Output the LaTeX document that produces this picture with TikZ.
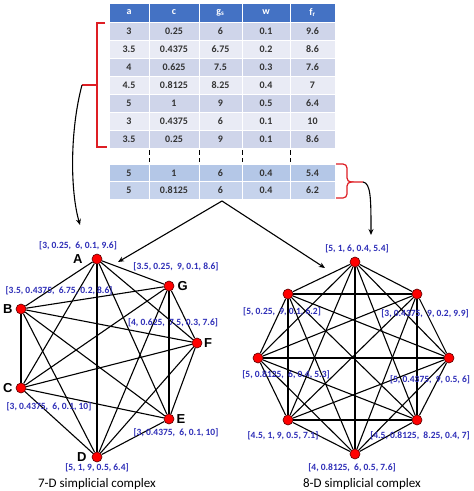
\documentclass[tikz,border=0pt]{standalone}
\usepackage{fontspec}
\setmainfont{Carlito}
\newfontfamily\lettfont{Liberation Sans}
\usetikzlibrary{positioning,arrows.meta,backgrounds}
\definecolor{tabhead}{RGB}{68,114,196}
\definecolor{rowA}{RGB}{207,213,234}
\definecolor{rowB}{RGB}{233,235,245}
\definecolor{newA}{RGB}{180,199,231}
\definecolor{newB}{RGB}{198,211,236}
\definecolor{vecblue}{RGB}{46,46,184}
\definecolor{brkred}{RGB}{222,30,36}
\tikzset{
  % --- table ------------------------------------------------------------------
  cell/.style={rectangle,draw=white,line width=0.8pt,inner sep=0pt,
               minimum height=18,text=black!80,
               font=\fontsize{10}{10}\selectfont\bfseries},
  hcell/.style={cell,fill=tabhead,text=white,minimum height=19},
  gap/.style={black,line width=1.6pt,dash pattern=on 5pt off 3pt},
  brk/.style={brkred,line width=1.2pt},
  flow/.style={-{Stealth[length=6pt,width=5pt]},black,line width=1.1pt},
  both/.style={{Stealth[length=6pt,width=5pt]}-{Stealth[length=6pt,width=5pt]},
               black,line width=1.1pt},
  % --- complexes --------------------------------------------------------------
  vtx/.style={circle,fill=red,draw=red!35!black,line width=0.6pt,
              minimum size=10,inner sep=0pt},
  vname/.style={font=\lettfont\fontsize{13}{13}\selectfont\bfseries,inner sep=0pt},
  vlab/.style={font=\fontsize{9.5}{10}\selectfont\bfseries,text=vecblue,inner sep=1pt},
  edge/.style={black,line width=1.1pt},
  captxt/.style={font=\fontsize{13}{14}\selectfont,inner sep=1pt},
}

\begin{document}
\begin{tikzpicture}[x=1pt, y=-1pt]
  \useasboundingbox (0,0) rectangle (474,491);

  % table
  \foreach \x/\w/\k/\t in {129/40/a/a, 174/50/c/c, 220.5/43/g/g\textsubscript{s},
                           266/48/w/w, 312.5/45/f/f\textsubscript{r}}
    \node[hcell,minimum width=\w] (h-\k) at (\x,12.5) {\t};
  \foreach \y/\fl/\nm/\va/\vc/\vg/\vw/\vf in {
      31/rowA/o1/3/0.25/6/0.1/9.6,       49/rowB/o2/3.5/0.4375/6.75/0.2/8.6,
      67/rowA/o3/4/0.625/7.5/0.3/7.6,    85/rowB/o4/4.5/0.8125/8.25/0.4/7,
      103/rowA/o5/5/1/9/0.5/6.4,         121/rowB/o6/3/0.4375/6/0.1/10,
      139/rowA/o7/3.5/0.25/9/0.1/8.6,
      173/newA/n1/5/1/6/0.4/5.4,         190/newB/n2/5/0.8125/6/0.4/6.2} {
    \node[cell,fill=\fl,minimum width=40] (\nm-a) at (129,\y)   {\va};
    \node[cell,fill=\fl,minimum width=50] (\nm-c) at (174,\y)   {\vc};
    \node[cell,fill=\fl,minimum width=43] (\nm-g) at (220.5,\y) {\vg};
    \node[cell,fill=\fl,minimum width=48] (\nm-w) at (266,\y)   {\vw};
    \node[cell,fill=\fl,minimum width=45] (\nm-f) at (312.5,\y) {\vf};
  }
  \foreach \k in {a,c,g,w}
    \draw[gap] ([yshift=-2pt]o7-\k.south east) -- ([yshift=2pt]n1-\k.north east);

  % brackets and arrows
  \coordinate (lbtick) at (82,85);
  \coordinate (lend)   at (80,225);
  \coordinate (rbtick) at (363,182);
  \coordinate (rend)   at (371,235);
  \coordinate (fork)   at (222,201);
  \coordinate (fend1)  at (118,262);
  \coordinate (fend2)  at (325,268);
  \draw[brk] (105,23) -- (97,23) -- (97,147) -- (107,147);
  \draw[brk] (97,85) -- (lbtick);
  \draw[brk,rounded corners=4pt] (336,164) -- (347,164) -- (347,182) -- (rbtick);
  \draw[brk,rounded corners=4pt] (349,182) -- (347,182) -- (347,198) -- (336,198);
  \draw[flow] (lbtick) .. controls (70,130) and (70,190) .. (lend);
  \draw[flow] (rbtick) .. controls (371,183) and (371,200) .. (rend);
  \draw[both] (fend1) -- (fork) -- (fend2);

  % 7-D complex
  \node[vtx] (sA) at (97,259)  {};
  \node[vtx] (sB) at (21,309)  {};
  \node[vtx] (sC) at (21,388)  {};
  \node[vtx] (sD) at (97,457)  {};
  \node[vtx] (sE) at (169,419) {};
  \node[vtx] (sF) at (197,343) {};
  \node[vtx] (sG) at (169,286) {};
  \node[vname,left=9pt of sA]   (nA) {A};
  \node[vname,left=3pt of sB]   (nB) {B};
  \node[vname,left=3pt of sC]   (nC) {C};
  \node[vname,left=5pt of sD]   (nD) {D};
  \node[vname,right=2pt of sE]  (nE) {E};
  \node[vname,right=1.5pt of sF] (nF) {F};
  \node[vname,right=3pt of sG]  (nG) {G};
  \node[vlab] (lA) at (78,246)  {[3, 0.25,\ \ 6, 0.1, 9.6]};
  \node[vlab] (lG) at (176,267) {[3.5, 0.25,\ \ 9, 0.1, 8.6]};
  \node[vlab] (lB) at (59,291)  {[3.5, 0.4375,\ \ 6.75, 0.2, 8.6]};
  \node[vlab] (lF) at (173,323) {[4, 0.625,\ \ 7.5, 0.3, 7.6]};
  \node[vlab] (lC) at (49,407)  {[3, 0.4375,\ \ 6, 0.1, 10]};
  \node[vlab] (lE) at (176,433) {[3, 0.4375,\ \ 6, 0.1, 10]};
  \node[vlab] (lD) at (97,468)  {[5, 1, 9, 0.5, 6.4]};
  \node[captxt] (cap7) at (97,484) {7-D simplicial complex};

  % 8-D complex
  \node[vtx] (r1) at (355,262) {};
  \node[vtx] (r2) at (417,294) {};
  \node[vtx] (r3) at (449,358) {};
  \node[vtx] (r4) at (417,420) {};
  \node[vtx] (r5) at (355,454) {};
  \node[vtx] (r6) at (288,420) {};
  \node[vtx] (r7) at (258,358) {};
  \node[vtx] (r8) at (288,294) {};
  \node[vlab] (m1) at (357,249) {[5, 1, 6, 0.4, 5.4]};
  \node[vlab] (m2) at (425,314) {[3, 0.4375,\ \ 9, 0.2, 9.9]};
  \node[vlab] (m3) at (430,380) {[5, 0.4375,\ \ 9, 0.5, 6]};
  \node[vlab] (m4) at (420,436) {[4.5, 0.8125,\ \ 8.25, 0.4, 7]};
  \node[vlab] (m5) at (352,468) {[4, 0.8125,\ \ 6, 0.5, 7.6]};
  \node[vlab] (m6) at (283,436) {[4.5, 1, 9, 0.5, 7.1]};
  \node[vlab] (m7) at (286,375) {[5, 0.8125,\ \ 6, 0.4, 5.3]};
  \node[vlab] (m8) at (282,312) {[5, 0.25,\ \ 9, 0.1, 6.2]};
  \node[captxt] (cap8) at (362,484) {8-D simplicial complex};

  \begin{scope}[on background layer]
    \fill[white] (0,0) rectangle (474,491);
    \foreach \u [count=\i] in {A,B,C,D,E,F,G}
      \foreach \v [count=\j] in {A,B,C,D,E,F,G}
        {\ifnum\i<\j \draw[edge] (s\u) -- (s\v); \fi}
    \foreach \i in {1,...,8}
      \foreach \j in {\i,...,8}
        {\ifnum\i<\j \draw[edge] (r\i) -- (r\j); \fi}
  \end{scope}
\end{tikzpicture}
\end{document}
